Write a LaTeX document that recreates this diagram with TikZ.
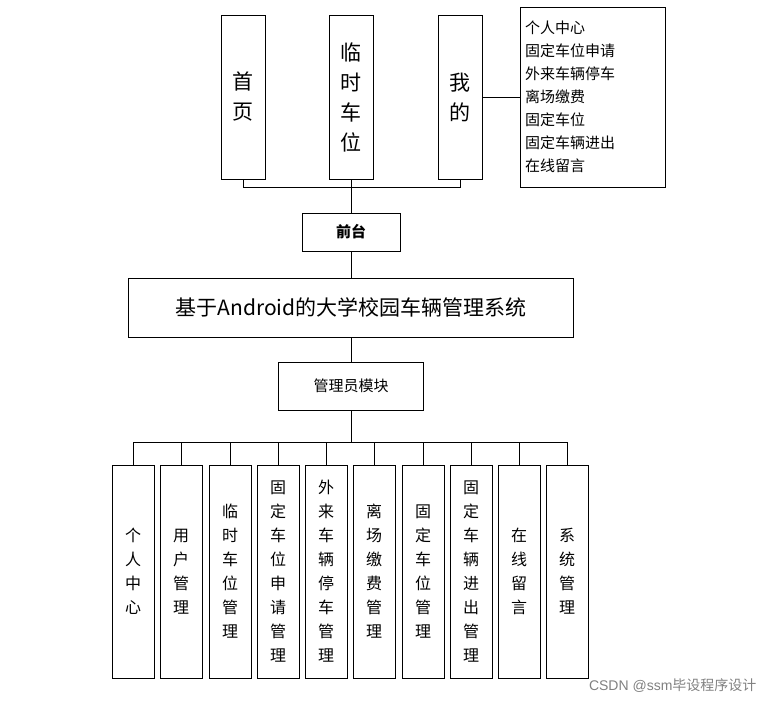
\documentclass[tikz,border=0pt]{standalone}
\usepackage{fontspec}
\newfontfamily\cjk{Noto Sans CJK SC}
\usetikzlibrary{positioning}

\begin{document}
\begin{tikzpicture}[x=1pt,y=-1pt,
    box/.style={draw, thick, font=\cjk, align=center, inner sep=0pt},
    vbox/.style={box, minimum width=42pt, minimum height=213pt, font=\cjk\fontsize{16}{24}\selectfont},
    topbox/.style={box, minimum width=44pt, minimum height=164pt, font=\cjk\fontsize{21}{30}\selectfont},
    link/.style={thick}
]
\useasboundingbox (0,0) rectangle (774,704);
% front end
\node[topbox] (home) at (243,97) {首\\页};
\node[topbox] (temp) at (351,97) {临\\时\\车\\位};
\node[topbox] (mine) at (460,97) {我\\的};
\node[box, minimum width=145pt, minimum height=180pt, font=\cjk\fontsize{15}{23}\selectfont, align=left, text width=135pt] (list) at (592.5,97)
  {个人中心\\固定车位申请\\外来车辆停车\\离场缴费\\固定车位\\固定车辆进出\\在线留言};
\node[box, minimum width=98pt, minimum height=38pt, font=\cjk\bfseries\fontsize{15}{18}\selectfont] (front) at (351,232) {前台};
\node[box, minimum width=445pt, minimum height=59pt, font=\cjk\fontsize{21}{26}\selectfont] (sys) at (351,307.5) {基于Android的大学校园车辆管理系统};
\node[box, minimum width=145pt, minimum height=48pt, font=\cjk\fontsize{15}{18}\selectfont] (admin) at (351,386) {管理员模块};

\draw[link] (mine.east) -- (list.west |- mine.east);
\draw[link] (home.south) -- (243,187) -- (460,187) -- (mine.south);
\draw[link] (temp.south) -- (front.north);
\draw[link] (front.south) -- (sys.north);
\draw[link] (sys.south) -- (admin.north);
\draw[link] (admin.south) -- (351,442);

% admin modules
\foreach \x/\t [count=\i] in {133/个\\人\\中\\心, 181/用\\户\\管\\理, 230/临\\时\\车\\位\\管\\理,
  278/固\\定\\车\\位\\申\\请\\管\\理, 326/外\\来\\车\\辆\\停\\车\\管\\理, 374/离\\场\\缴\\费\\管\\理,
  423/固\\定\\车\\位\\管\\理, 471/固\\定\\车\\辆\\进\\出\\管\\理, 519/在\\线\\留\\言, 567/系\\统\\管\\理} {
  \node[vbox] (m\i) at (\x,571.5) {\t};
  \draw[link] (m\i.north) -- (\x,442);
}
\draw[link] (m1.north |- 0,442) -- (m10.north |- 0,442);

\node[font=\fontspec{Liberation Sans}\fontsize{14}{16}\selectfont, text=gray, anchor=east] (mark) at (760,686) {CSDN @ssm\cjk 毕设程序设计};
\end{tikzpicture}
\end{document}
